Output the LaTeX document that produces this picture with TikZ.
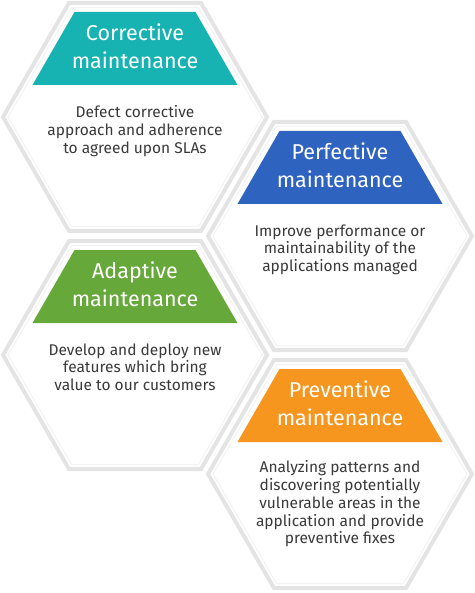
\documentclass[tikz,border=0pt]{standalone}
\usepackage{fontspec}
\setmainfont{Fira Sans}
\usepackage{tikz}
\usetikzlibrary{calc}

\definecolor{tealc}{RGB}{23,179,179}
\definecolor{bluec}{RGB}{47,99,192}
\definecolor{greenc}{RGB}{102,168,58}
\definecolor{orangec}{RGB}{246,150,30}
\definecolor{rimc}{RGB}{228,228,228}
\definecolor{textc}{RGB}{58,58,58}

\tikzset{
  hexrim/.style={draw=rimc, line width=4pt, fill=white, line join=miter},
  hexinner/.style={draw=rimc!45, line width=1pt},
  titlebox/.style={align=center, text=white, font=\fontsize{21.5}{28}\selectfont},
  bodytext/.style={align=center, text=textc, anchor=north, font=\fontsize{15.5}{17.8}\selectfont}
}

\begin{document}
\begin{tikzpicture}[x=1pt,y=-1pt]
  \useasboundingbox (0,0) rectangle (474,593);

    \begin{scope}[shift={(135,117)}]
      \draw[hexrim] (-132,0) -- (-66,-114) -- (66,-114) -- (132,0) -- (66,114) -- (-66,114) -- cycle;
      \draw[hexinner] (-127,0) -- (-63.5,-109.5) -- (63.5,-109.5) -- (127,0) -- (63.5,109.5) -- (-63.5,109.5) -- cycle;
      \fill[tealc] (-60.5,-105) -- (60.5,-105) -- (102.5,-32) -- (-102.5,-32) -- cycle;
      \node(corrtitle) at (0,-71) [titlebox] {Corrective\\maintenance};
      \node(corrbody) at (0,-15) [bodytext] {Defect corrective\\approach and adherence\\to agreed upon SLAs};
    \end{scope}

    \begin{scope}[shift={(340,236)}]
      \draw[hexrim] (-132,0) -- (-66,-114) -- (66,-114) -- (132,0) -- (66,114) -- (-66,114) -- cycle;
      \draw[hexinner] (-127,0) -- (-63.5,-109.5) -- (63.5,-109.5) -- (127,0) -- (63.5,109.5) -- (-63.5,109.5) -- cycle;
      \fill[bluec] (-60.5,-105) -- (60.5,-105) -- (102.5,-32) -- (-102.5,-32) -- cycle;
      \node(perftitle) at (0,-71) [titlebox] {Perfective\\maintenance};
      \node(perfbody) at (0,-15) [bodytext] {Improve performance or\\maintainability of the\\applications managed};
    \end{scope}

    \begin{scope}[shift={(135,355)}]
      \draw[hexrim] (-132,0) -- (-66,-114) -- (66,-114) -- (132,0) -- (66,114) -- (-66,114) -- cycle;
      \draw[hexinner] (-127,0) -- (-63.5,-109.5) -- (63.5,-109.5) -- (127,0) -- (63.5,109.5) -- (-63.5,109.5) -- cycle;
      \fill[greenc] (-60.5,-105) -- (60.5,-105) -- (102.5,-32) -- (-102.5,-32) -- cycle;
      \node(adapttitle) at (0,-71) [titlebox] {Adaptive\\maintenance};
      \node(adaptbody) at (0,-15) [bodytext] {Develop and deploy new\\features which bring\\value to our customers};
    \end{scope}

    \begin{scope}[shift={(340,474)}]
      \draw[hexrim] (-132,0) -- (-66,-114) -- (66,-114) -- (132,0) -- (66,114) -- (-66,114) -- cycle;
      \draw[hexinner] (-127,0) -- (-63.5,-109.5) -- (63.5,-109.5) -- (127,0) -- (63.5,109.5) -- (-63.5,109.5) -- cycle;
      \fill[orangec] (-60.5,-105) -- (60.5,-105) -- (102.5,-32) -- (-102.5,-32) -- cycle;
      \node(prevtitle) at (0,-71) [titlebox] {Preventive\\maintenance};
      \node(prevbody) at (0,-17) [bodytext] {Analyzing patterns and\\discovering potentially\\vulnerable areas in the\\application and provide\\preventive fixes};
    \end{scope}
\end{tikzpicture}
\end{document}
